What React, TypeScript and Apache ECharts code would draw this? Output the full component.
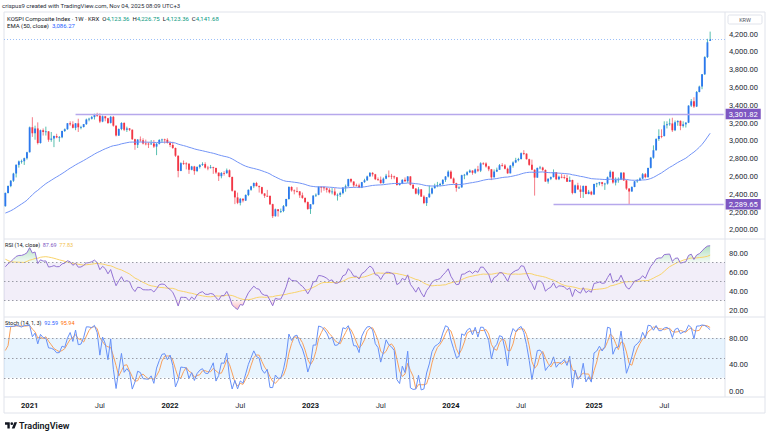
import { useEffect, useRef } from 'react';
import * as echarts from 'echarts';

const FONT = 'Roboto, "Noto Sans", Arial, sans-serif';

// Weekly bars (week starting Monday), first bar is the week of 2 Nov 2020
const firstWeekUTC = Date.UTC(2020, 10, 2);
const blankWeeksAfter = 5;

const opens = [
  2267, 2416, 2493, 2553, 2633, 2731, 2770, 2772, 2806,
  2873, 3152, 3085, 3140, 2976, 3120, 3100, 3107, 3013, 3026, 3054, 3039, 3041, 3112, 3131, 3198, 3186, 3147, 3197, 3153, 3156, 3188, 3240, 3249, 3267, 3302, 3282, 3217, 3276, 3254, 3202, 3270, 3171, 3060, 3133, 3201, 3125, 3140, 3125, 3019, 2956, 3015, 3006, 2971, 2969, 2968, 2971, 2936, 2968, 3010, 3017, 3012,
  2977, 2954, 2921, 2834, 2663, 2750, 2747, 2744, 2676, 2713, 2661, 2707, 2729, 2739, 2700, 2696, 2704, 2695, 2644, 2604, 2639, 2638, 2670, 2595, 2440, 2366, 2305, 2350, 2330, 2393, 2451, 2490, 2527, 2492, 2481, 2409, 2384, 2382, 2290, 2155, 2232, 2212, 2213, 2268, 2348, 2483, 2444, 2437, 2434, 2389, 2360, 2313,
  2236, 2289, 2386, 2395, 2484, 2480, 2469, 2451, 2423, 2432, 2394, 2395, 2414, 2476, 2490, 2571, 2544, 2501, 2500, 2475, 2537, 2558, 2601, 2641, 2625, 2570, 2564, 2526, 2576, 2609, 2608, 2602, 2591, 2504, 2519, 2563, 2547, 2601, 2508, 2465, 2408, 2456, 2375, 2302, 2368, 2409, 2469, 2496, 2505, 2517, 2563, 2600,
  2655, 2578, 2525, 2472, 2478, 2615, 2620, 2648, 2667, 2642, 2680, 2666, 2748, 2747, 2714, 2681, 2591, 2656, 2676, 2727, 2724, 2687, 2636, 2722, 2758, 2784, 2797, 2862, 2857, 2795, 2731, 2676, 2588, 2697, 2701, 2674, 2544, 2575, 2593, 2649, 2569, 2597, 2593, 2583, 2542, 2561, 2416, 2501, 2455, 2428, 2494, 2404, 2429,
  2399, 2515, 2523, 2536, 2517, 2521, 2591, 2654, 2532, 2563, 2566, 2643, 2557, 2465, 2432, 2483, 2546, 2559, 2577, 2626, 2593, 2697, 2812, 2895, 3021, 3055, 3054, 3175, 3188, 3196, 3119, 3210, 3225, 3168, 3186, 3205, 3396, 3445, 3386, 3549, 3610, 3748, 3941, 4123.36,
];

const highs = [
  2420, 2500, 2560, 2642, 2735, 2780, 2790, 2812, 2878,
  3161, 3266, 3171, 3208, 3127, 3140, 3160, 3110, 3100, 3060, 3080, 3055, 3115, 3140, 3200, 3220, 3220, 3200, 3249, 3170, 3190, 3250, 3260, 3280, 3305, 3316, 3310, 3285, 3280, 3260, 3280, 3280, 3175, 3140, 3210, 3210, 3160, 3145, 3130, 3025, 3020, 3050, 3030, 3015, 2985, 3010, 3010, 2975, 3020, 3025, 3025, 3030,
  2995, 2990, 2925, 2835, 2760, 2780, 2760, 2750, 2720, 2720, 2715, 2740, 2760, 2760, 2720, 2730, 2710, 2700, 2645, 2650, 2660, 2690, 2680, 2600, 2445, 2420, 2360, 2355, 2400, 2455, 2495, 2533, 2540, 2500, 2485, 2415, 2450, 2390, 2295, 2240, 2235, 2240, 2280, 2350, 2490, 2490, 2455, 2480, 2435, 2420, 2365, 2320,
  2290, 2390, 2410, 2490, 2490, 2490, 2480, 2470, 2470, 2470, 2410, 2430, 2480, 2510, 2575, 2580, 2545, 2520, 2520, 2540, 2575, 2610, 2650, 2650, 2630, 2590, 2600, 2590, 2630, 2668, 2630, 2610, 2595, 2530, 2570, 2590, 2605, 2605, 2510, 2470, 2480, 2460, 2390, 2370, 2500, 2480, 2520, 2540, 2530, 2570, 2605, 2670,
  2670, 2590, 2530, 2490, 2620, 2630, 2660, 2680, 2670, 2690, 2720, 2760, 2760, 2760, 2720, 2685, 2680, 2700, 2740, 2750, 2740, 2700, 2730, 2770, 2810, 2810, 2870, 2896, 2860, 2800, 2790, 2680, 2700, 2720, 2710, 2680, 2580, 2600, 2680, 2650, 2610, 2630, 2620, 2620, 2600, 2565, 2510, 2530, 2500, 2500, 2500, 2450, 2440,
  2520, 2530, 2540, 2540, 2530, 2600, 2670, 2655, 2590, 2590, 2650, 2650, 2560, 2470, 2490, 2550, 2570, 2590, 2640, 2640, 2700, 2820, 2950, 3030, 3130, 3130, 3220, 3220, 3250, 3260, 3230, 3230, 3230, 3220, 3210, 3400, 3470, 3490, 3560, 3620, 3750, 3950, 4146, 4226.75,
];

const lows = [
  2262, 2410, 2480, 2540, 2590, 2700, 2745, 2730, 2790,
  2869, 3045, 3013, 2960, 2970, 3060, 3060, 2990, 2990, 2930, 3030, 2990, 3030, 3100, 3125, 3170, 3140, 3120, 3100, 3130, 3150, 3180, 3220, 3240, 3240, 3270, 3200, 3210, 3220, 3190, 3195, 3160, 3050, 3055, 3120, 3110, 3100, 3110, 3010, 2900, 2920, 2990, 2960, 2950, 2920, 2955, 2920, 2840, 2960, 2980, 2970, 2970,
  2930, 2910, 2820, 2591, 2660, 2730, 2680, 2630, 2670, 2620, 2650, 2690, 2720, 2690, 2670, 2690, 2630, 2630, 2550, 2580, 2610, 2630, 2590, 2430, 2290, 2290, 2276, 2310, 2325, 2380, 2440, 2470, 2490, 2420, 2400, 2360, 2370, 2280, 2134, 2150, 2150, 2190, 2200, 2260, 2340, 2430, 2400, 2420, 2360, 2350, 2300, 2225,
  2180, 2285, 2370, 2390, 2420, 2440, 2420, 2410, 2400, 2380, 2330, 2370, 2400, 2430, 2485, 2530, 2480, 2490, 2470, 2470, 2530, 2550, 2600, 2600, 2560, 2550, 2520, 2520, 2570, 2590, 2570, 2570, 2500, 2500, 2515, 2540, 2530, 2500, 2460, 2400, 2390, 2370, 2290, 2270, 2360, 2400, 2465, 2480, 2490, 2500, 2540, 2590,
  2570, 2520, 2430, 2460, 2475, 2570, 2610, 2640, 2620, 2630, 2650, 2650, 2730, 2700, 2660, 2560, 2590, 2650, 2675, 2710, 2680, 2630, 2635, 2700, 2750, 2770, 2790, 2840, 2790, 2720, 2670, 2386, 2585, 2680, 2660, 2540, 2520, 2560, 2590, 2560, 2560, 2580, 2570, 2540, 2540, 2400, 2410, 2450, 2360, 2360, 2400, 2400, 2390,
  2395, 2480, 2500, 2490, 2450, 2510, 2590, 2520, 2500, 2530, 2560, 2550, 2450, 2284, 2430, 2480, 2530, 2550, 2570, 2580, 2590, 2690, 2800, 2890, 3000, 3030, 3050, 3140, 3170, 3100, 3110, 3170, 3120, 3150, 3150, 3200, 3380, 3370, 3380, 3545, 3580, 3740, 3930, 4123.36,
];

const closes = [
  2416, 2493, 2553, 2633, 2731, 2770, 2772, 2806, 2873,
  3152, 3085, 3140, 2976, 3120, 3100, 3107, 3013, 3026, 3054, 3039, 3041, 3112, 3131, 3198, 3186, 3147, 3197, 3153, 3156, 3188, 3240, 3249, 3267, 3302, 3282, 3217, 3276, 3254, 3202, 3270, 3171, 3060, 3133, 3201, 3125, 3140, 3125, 3019, 2956, 3015, 3006, 2971, 2969, 2968, 2971, 2936, 2968, 3010, 3017, 3012, 2977,
  2954, 2921, 2834, 2663, 2750, 2747, 2744, 2676, 2713, 2661, 2707, 2729, 2739, 2700, 2696, 2704, 2695, 2644, 2604, 2639, 2638, 2670, 2595, 2440, 2366, 2305, 2350, 2330, 2393, 2451, 2490, 2527, 2492, 2481, 2409, 2384, 2382, 2290, 2155, 2232, 2212, 2213, 2268, 2348, 2483, 2444, 2437, 2434, 2389, 2360, 2313, 2236,
  2289, 2386, 2395, 2484, 2480, 2469, 2451, 2423, 2432, 2394, 2395, 2414, 2476, 2490, 2571, 2544, 2501, 2500, 2475, 2537, 2558, 2601, 2641, 2625, 2570, 2564, 2526, 2576, 2609, 2608, 2602, 2591, 2504, 2519, 2563, 2547, 2601, 2508, 2465, 2408, 2456, 2375, 2302, 2368, 2409, 2469, 2496, 2505, 2517, 2563, 2600, 2655,
  2578, 2525, 2472, 2478, 2615, 2620, 2648, 2667, 2642, 2680, 2666, 2748, 2747, 2714, 2681, 2591, 2656, 2676, 2727, 2724, 2687, 2636, 2722, 2758, 2784, 2797, 2862, 2857, 2795, 2731, 2676, 2588, 2697, 2701, 2674, 2544, 2575, 2593, 2649, 2569, 2597, 2593, 2583, 2542, 2561, 2416, 2501, 2455, 2428, 2494, 2404, 2429, 2399,
  2515, 2523, 2536, 2517, 2521, 2591, 2654, 2532, 2563, 2566, 2643, 2557, 2465, 2432, 2483, 2546, 2559, 2577, 2626, 2593, 2697, 2812, 2895, 3021, 3055, 3054, 3175, 3188, 3196, 3119, 3210, 3225, 3168, 3186, 3205, 3396, 3445, 3386, 3549, 3610, 3748, 3941, 4107, 4141.68,
];

// Weekly closes before the first bar, used only to start the RSI and stochastic
const warmupCloses = [
  1725, 1861, 1914, 1889, 1947, 1945, 1927, 1970, 2030, 2181, 2132, 2141, 2134, 2152, 2150, 2201,
  2200, 2249, 2351, 2407, 2304, 2353, 2368, 2397, 2413, 2278, 2327, 2391, 2341, 2360, 2267,
];
const emaStart = 2190;

const resistanceLevel = 3301.82;
const resistanceFromWeek = 26;
const supportLevel = 2289.65;
const supportFromWeek = 203;
const lastClose = 4141.68;

const priceTicks = [2000, 2200, 2400, 2600, 2800, 3000, 3200, 3400, 3600, 3800, 4000, 4200];
const rsiTicks = [20, 40, 60, 80];
const stochTicks = [0, 40, 80];

const UP_BODY = '#2C78EE';
const DOWN_BODY = '#F23645';
const UP_WICK = '#58BFAF';
const DOWN_WICK = '#F57D88';

echarts.graphic.registerShape(
  'tvLogo',
  echarts.graphic.extendPath('M14 22H7V11H0V4h14v18zM28 22h-8l7.5-18h8L28 22zM24 8a4 4 0 1 1-8 0a4 4 0 1 1 8 0z', {})
);

const weekCount = closes.length + blankWeeksAfter;
const categories = Array.from({ length: weekCount }, (_, i) =>
  new Date(firstWeekUTC + i * 7 * 86400000).toISOString().slice(0, 10)
);

const timeLabels: Record<number, string> = {};
for (let i = 1; i < weekCount; i++) {
  const d = new Date(categories[i]);
  const p = new Date(categories[i - 1]);
  if (d.getUTCFullYear() !== p.getUTCFullYear()) timeLabels[i] = `{y|${d.getUTCFullYear()}}`;
  else if (d.getUTCMonth() === 6 && p.getUTCMonth() === 5) timeLabels[i] = '{m|Jul}';
}

const fmt2 = (v: number) =>
  v.toLocaleString('en-US', { minimumFractionDigits: 2, maximumFractionDigits: 2 });

function emaSeries(src: number[], len: number, start: number) {
  const k = 2 / (len + 1);
  const out: number[] = [start];
  for (let i = 1; i < src.length; i++) out.push(out[i - 1] + k * (src[i] - out[i - 1]));
  return out;
}

function rsiSeries(src: number[], len: number) {
  const out: (number | null)[] = src.map(() => null);
  let ag = 0;
  let al = 0;
  for (let i = 1; i < src.length; i++) {
    const ch = src[i] - src[i - 1];
    const g = Math.max(ch, 0);
    const l = Math.max(-ch, 0);
    if (i <= len) {
      ag += g;
      al += l;
      if (i === len) {
        ag /= len;
        al /= len;
        out[i] = al === 0 ? 100 : 100 - 100 / (1 + ag / al);
      }
    } else {
      ag = (ag * (len - 1) + g) / len;
      al = (al * (len - 1) + l) / len;
      out[i] = al === 0 ? 100 : 100 - 100 / (1 + ag / al);
    }
  }
  return out;
}

function smaSeries(src: (number | null)[], len: number) {
  return src.map((_, i) => {
    if (i < len - 1) return null;
    const win = src.slice(i - len + 1, i + 1);
    if (win.some((v) => v == null)) return null;
    return (win as number[]).reduce((a, b) => a + b, 0) / len;
  });
}

function stochSeries(c: number[], h: number[], l: number[], len: number) {
  return c.map((v, i) => {
    if (i < len - 1) return null;
    const hh = Math.max(...h.slice(i - len + 1, i + 1));
    const ll = Math.min(...l.slice(i - len + 1, i + 1));
    return hh === ll ? 50 : (100 * (v - ll)) / (hh - ll);
  });
}

const W = warmupCloses.length;
const allCloses = [...warmupCloses, ...closes];
const allHighs = [...warmupCloses, ...highs];
const allLows = [...warmupCloses, ...lows];

const round2 = (v: number | null) => (v == null ? null : Math.round(v * 100) / 100);

const ema50 = emaSeries(closes, 50, emaStart).map(round2);
const rsiAll = rsiSeries(allCloses, 14);
const rsi = rsiAll.slice(W).map(round2);
const rsiMa = smaSeries(rsiAll, 14).slice(W).map(round2);
const kAll = stochSeries(allCloses, allHighs, allLows, 14);
const stochK = kAll.slice(W).map(round2);
const stochD = smaSeries(kAll, 3).slice(W).map(round2);

const rsiHiBase = rsi.map((v) => (v == null ? null : 70));
const rsiHiFill = rsi.map((v) => (v == null ? null : Math.max(v - 70, 0)));
const rsiLoBase = rsi.map((v) => (v == null ? null : Math.min(v, 30)));
const rsiLoFill = rsi.map((v) => (v == null ? null : 30 - Math.min(v, 30)));

const candleData = closes.map((c, i) => [i, opens[i], c, lows[i], highs[i]]);

const GRID_LEFT = 4;
const GRID_RIGHT = 43;
const PLOT_RIGHT = 768 - GRID_RIGHT;

const dottedLine = { color: '#9a9ca6', type: [1.5, 2.5] as number[], width: 1 };

function xAxisFor(gridIndex: number, showLabels: boolean) {
  return {
    type: 'category',
    gridIndex,
    data: categories,
    boundaryGap: true,
    axisLine: { show: false },
    axisTick: { show: false },
    splitLine: { show: false },
    axisLabel: showLabels
      ? {
          show: true,
          interval: (index: number) => timeLabels[index] !== undefined,
          formatter: (_v: string, index: number) => timeLabels[index] ?? '',
          margin: 5,
          rich: {
            y: { fontSize: 7.5, fontWeight: 'bold', color: '#131722', fontFamily: FONT },
            m: { fontSize: 7.5, color: '#2a2e39', fontFamily: FONT },
          },
        }
      : { show: false },
  };
}

function yAxisFor(gridIndex: number, min: number, max: number, ticks: number[]) {
  return {
    type: 'value',
    gridIndex,
    position: 'right',
    min,
    max,
    splitLine: { show: false },
    axisLine: { show: false },
    axisTick: { show: false },
    axisLabel: {
      customValues: ticks,
      formatter: (v: number) => fmt2(v),
      fontSize: 7.6,
      color: '#2a2e39',
      fontFamily: FONT,
      margin: 4,
    },
  };
}

function rayLabel(text: string) {
  return {
    show: true,
    position: 'end',
    formatter: text,
    color: '#ffffff',
    backgroundColor: '#7E57C2',
    padding: [1.5, 3, 1, 3],
    fontSize: 7.6,
    fontFamily: FONT,
    distance: 2,
  };
}

const rayStyle = { color: '#B6A8EC', width: 1.3, type: 'solid' };

export default function App() {
  const ref = useRef<HTMLDivElement>(null);

  useEffect(() => {
    if (!ref.current) return;
    const chart = echarts.init(ref.current, undefined, { renderer: 'svg' });

    const sepColor = '#e0e3eb';
    const hLine = (y: number) => ({
      type: 'line',
      silent: true,
      shape: { x1: GRID_LEFT, y1: y, x2: 765, y2: y },
      style: { stroke: sepColor, lineWidth: 1 },
    });

    chart.setOption({
      animation: false,
      backgroundColor: '#ffffff',
      grid: [
        { left: GRID_LEFT, right: GRID_RIGHT, top: 12, height: 226 },
        { left: GRID_LEFT, right: GRID_RIGHT, top: 240, height: 76 },
        { left: GRID_LEFT, right: GRID_RIGHT, top: 318, height: 78 },
      ],
      xAxis: [xAxisFor(0, false), xAxisFor(1, false), xAxisFor(2, true)],
      yAxis: [
        yAxisFor(0, 1910, 4447, priceTicks),
        yAxisFor(1, 13.7, 93.7, rsiTicks),
        yAxisFor(2, -7.5, 110.2, stochTicks),
      ],
      series: [
        {
          name: 'KOSPI',
          type: 'custom',
          xAxisIndex: 0,
          yAxisIndex: 0,
          data: candleData,
          encode: { x: 0, y: [1, 2, 3, 4] },
          z: 2,
          renderItem: (_params: any, api: any) => {
            const i = api.value(0);
            const o = api.value(1);
            const c = api.value(2);
            const l = api.value(3);
            const h = api.value(4);
            const up = c >= o;
            const top = api.coord([i, Math.max(o, c)]);
            const bot = api.coord([i, Math.min(o, c)]);
            const hi = api.coord([i, Math.max(h, o, c)]);
            const lo = api.coord([i, Math.min(l, o, c)]);
            const w = api.size([1, 0])[0] * 0.68;
            return {
              type: 'group',
              children: [
                {
                  type: 'line',
                  shape: { x1: hi[0], y1: hi[1], x2: lo[0], y2: lo[1] },
                  style: { stroke: up ? UP_WICK : DOWN_WICK, lineWidth: 1 },
                },
                {
                  type: 'rect',
                  shape: { x: top[0] - w / 2, y: top[1], width: w, height: Math.max(bot[1] - top[1], 0.8) },
                  style: { fill: up ? UP_BODY : DOWN_BODY },
                },
              ],
            };
          },
        },
        {
          name: 'EMA (50, close)',
          type: 'line',
          xAxisIndex: 0,
          yAxisIndex: 0,
          data: ema50,
          showSymbol: false,
          z: 3,
          lineStyle: { color: '#7394F6', width: 1 },
          markLine: {
            silent: true,
            symbol: ['none', 'none'],
            label: { show: false },
            data: [
              {
                yAxis: lastClose,
                lineStyle: { color: '#9CC0F8', width: 1, type: [1, 2] },
                label: { show: false },
              },
              [
                {
                  coord: [categories[resistanceFromWeek], resistanceLevel],
                  lineStyle: rayStyle,
                  label: rayLabel(fmt2(resistanceLevel)),
                },
                {
                  coord: [categories[weekCount - 1], resistanceLevel],
                  lineStyle: rayStyle,
                  label: rayLabel(fmt2(resistanceLevel)),
                },
              ],
              [
                {
                  coord: [categories[supportFromWeek], supportLevel],
                  lineStyle: rayStyle,
                  label: rayLabel(fmt2(supportLevel)),
                },
                {
                  coord: [categories[weekCount - 1], supportLevel],
                  lineStyle: rayStyle,
                  label: rayLabel(fmt2(supportLevel)),
                },
              ],
            ],
          },
        },
        {
          type: 'line',
          xAxisIndex: 1,
          yAxisIndex: 1,
          stack: 'rsiHigh',
          data: rsiHiBase,
          showSymbol: false,
          silent: true,
          lineStyle: { opacity: 0 },
          z: 1,
        },
        {
          type: 'line',
          xAxisIndex: 1,
          yAxisIndex: 1,
          stack: 'rsiHigh',
          data: rsiHiFill,
          showSymbol: false,
          silent: true,
          lineStyle: { opacity: 0 },
          areaStyle: {
            color: new echarts.graphic.LinearGradient(0, 0, 0, 1, [
              { offset: 0, color: 'rgba(56,176,96,0.55)' },
              { offset: 1, color: 'rgba(56,176,96,0.08)' },
            ]),
          },
          z: 1,
        },
        {
          type: 'line',
          xAxisIndex: 1,
          yAxisIndex: 1,
          stack: 'rsiLow',
          data: rsiLoBase,
          showSymbol: false,
          silent: true,
          lineStyle: { opacity: 0 },
          z: 1,
        },
        {
          type: 'line',
          xAxisIndex: 1,
          yAxisIndex: 1,
          stack: 'rsiLow',
          data: rsiLoFill,
          showSymbol: false,
          silent: true,
          lineStyle: { opacity: 0 },
          areaStyle: {
            color: new echarts.graphic.LinearGradient(0, 0, 0, 1, [
              { offset: 0, color: 'rgba(242,54,69,0.08)' },
              { offset: 1, color: 'rgba(242,54,69,0.5)' },
            ]),
          },
          z: 1,
        },
        {
          name: 'RSI',
          type: 'line',
          xAxisIndex: 1,
          yAxisIndex: 1,
          data: rsi,
          showSymbol: false,
          z: 3,
          lineStyle: { color: '#9373D3', width: 1 },
          markArea: {
            silent: true,
            itemStyle: { color: 'rgba(126,87,194,0.1)' },
            data: [[{ yAxis: 30 }, { yAxis: 70 }]],
          },
          markLine: {
            silent: true,
            symbol: ['none', 'none'],
            label: { show: false },
            lineStyle: dottedLine,
            data: [{ yAxis: 70 }, { yAxis: 50 }, { yAxis: 30 }],
          },
        },
        {
          name: 'RSI-based MA',
          type: 'line',
          xAxisIndex: 1,
          yAxisIndex: 1,
          data: rsiMa,
          showSymbol: false,
          z: 2,
          lineStyle: { color: '#F8D36A', width: 1 },
        },
        {
          name: '%K',
          type: 'line',
          xAxisIndex: 2,
          yAxisIndex: 2,
          data: stochK,
          showSymbol: false,
          z: 3,
          lineStyle: { color: '#6690F7', width: 1 },
          markArea: {
            silent: true,
            itemStyle: { color: 'rgba(33,150,243,0.1)' },
            data: [[{ yAxis: 20 }, { yAxis: 80 }]],
          },
          markLine: {
            silent: true,
            symbol: ['none', 'none'],
            label: { show: false },
            lineStyle: dottedLine,
            data: [{ yAxis: 80 }, { yAxis: 50 }, { yAxis: 20 }],
          },
        },
        {
          name: '%D',
          type: 'line',
          xAxisIndex: 2,
          yAxisIndex: 2,
          data: stochD,
          showSymbol: false,
          z: 2,
          lineStyle: { color: '#F8A05C', width: 1 },
        },
      ],
      graphic: [
        { type: 'rect', silent: true, shape: { x: GRID_LEFT, y: 12, width: 765 - GRID_LEFT, height: 401 }, style: { fill: 'none', stroke: sepColor, lineWidth: 1 } },
        hLine(239),
        hLine(317),
        hLine(397),
        {
          type: 'line',
          silent: true,
          shape: { x1: PLOT_RIGHT, y1: 12, x2: PLOT_RIGHT, y2: 397 },
          style: { stroke: sepColor, lineWidth: 1 },
        },
        {
          type: 'text',
          x: 2,
          y: 2,
          style: {
            text: 'crispus9 created with TradingView.com, Nov 04, 2025 08:09 UTC+3',
            fontSize: 6,
            fontFamily: FONT,
            fill: '#2a2e39',
          },
        },
        {
          type: 'text',
          x: 7,
          y: 15,
          style: {
            text: '{t|KOSPI Composite Index · 1W · KRX}  {t|O}{v|4,123.36}  {t|H}{v|4,226.75}  {t|L}{v|4,123.36}  {t|C}{v|4,141.68}',
            fontSize: 6,
            fontFamily: FONT,
            rich: {
              t: { fill: '#131722', fontSize: 6, fontFamily: FONT },
              v: { fill: '#089981', fontSize: 6, fontFamily: FONT },
            },
          },
        },
        {
          type: 'text',
          x: 7,
          y: 22.5,
          style: {
            text: '{t|EMA (50, close)}  {v|3,086.27}',
            fontSize: 6,
            fontFamily: FONT,
            rich: {
              t: { fill: '#131722', fontSize: 6, fontFamily: FONT },
              v: { fill: '#2962FF', fontSize: 6, fontFamily: FONT },
            },
          },
        },
        {
          type: 'text',
          x: 5,
          y: 242,
          style: {
            text: '{t|RSI (14, close)}  {a|87.69}  {b|77.83}',
            fontSize: 5.5,
            fontFamily: FONT,
            rich: {
              t: { fill: '#131722', fontSize: 5.5, fontFamily: FONT },
              a: { fill: '#7E57C2', fontSize: 5.5, fontFamily: FONT },
              b: { fill: '#F2C14E', fontSize: 5.5, fontFamily: FONT },
            },
          },
        },
        {
          type: 'text',
          x: 5,
          y: 320,
          style: {
            text: '{t|Stoch (14, 1, 3)}  {a|92.59}  {b|95.94}',
            fontSize: 5.5,
            fontFamily: FONT,
            rich: {
              t: { fill: '#131722', fontSize: 5.5, fontFamily: FONT },
              a: { fill: '#2962FF', fontSize: 5.5, fontFamily: FONT },
              b: { fill: '#FF6D00', fontSize: 5.5, fontFamily: FONT },
            },
          },
        },
        {
          type: 'rect',
          silent: true,
          shape: { x: 728, y: 15, width: 34, height: 9, r: 1.5 },
          style: { fill: '#ffffff', stroke: sepColor, lineWidth: 1 },
        },
        {
          type: 'text',
          x: 745,
          y: 19.5,
          style: {
            text: 'KRW',
            fontSize: 5.5,
            fontFamily: FONT,
            fill: '#50535e',
            align: 'center',
            verticalAlign: 'middle',
          },
        },
        {
          type: 'tvLogo',
          x: 5,
          y: 421,
          scaleX: 0.34,
          scaleY: 0.34,
          style: { fill: '#131722' },
        },
        {
          type: 'text',
          x: 19,
          y: 425.5,
          style: {
            text: 'TradingView',
            fontSize: 9,
            fontWeight: 600,
            fontFamily: FONT,
            fill: '#131722',
            verticalAlign: 'middle',
          },
        },
      ],
    });

    return () => chart.dispose();
  }, []);

  return (
    <div
      ref={ref}
      style={{ position: 'fixed', left: 0, top: 0, width: 768, height: 438, background: '#ffffff' }}
    />
  );
}
